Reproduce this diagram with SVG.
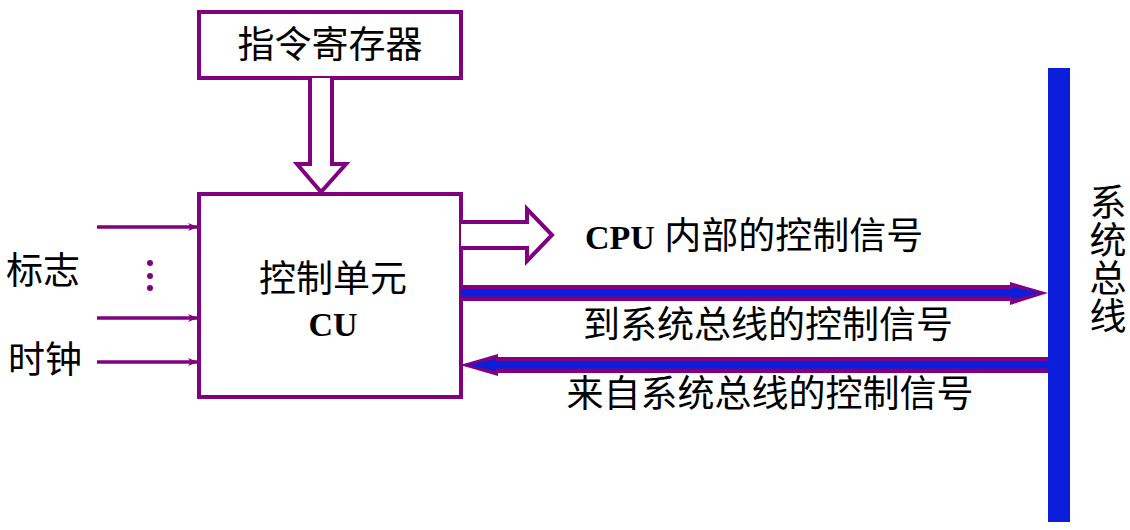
<svg xmlns="http://www.w3.org/2000/svg" width="1130" height="530" viewBox="0 0 1130 530">
<style>
.box{fill:#fff;stroke:#800080;stroke-width:4}
.t{font-family:"Liberation Serif","Noto Sans CJK SC",serif;font-size:37px;fill:#000}
.b{font-weight:bold;font-size:34px}
.ln{stroke:#800080;stroke-width:3.5;fill:none}
.hol{fill:#fff;stroke:#800080;stroke-width:4}
</style>
<defs><marker id="ah" markerWidth="10" markerHeight="10" refX="9" refY="5" orient="auto" markerUnits="userSpaceOnUse" viewBox="0 0 10 10"><path d="M0,1 L10,5 L0,9 L3,5 Z" fill="#800080"/></marker></defs>
<rect x="1048" y="68" width="22" height="454" fill="#0a1edc"/>
<g id="ir"><rect class="box" x="199" y="12" width="262" height="66"/><text class="t" x="330" y="58" text-anchor="middle">指令寄存器</text></g>
<g id="cu"><rect class="box" x="199" y="194" width="262" height="203"/><text class="t" x="333" y="292" text-anchor="middle">控制单元</text><text class="t b" x="333" y="336" text-anchor="middle">CU</text></g>
<g id="connectors">
<path class="hol" d="M310,78 V164 H297 L321,192 L346,164 H332 V78"/>
<path class="hol" d="M461,222 H527 V209 L552,235 L527,261 V248 H461"/>
<path d="M461,293 H1012 M1048,365 H496" stroke="#800080" stroke-width="16"/>
<path d="M1010,282 L1048,293 L1010,305 Z M498,354 L460,365 L498,376 Z" fill="#800080"/>
<path d="M461,293 H1015 M1048,365 H494" stroke="#0a1edc" stroke-width="7"/>
<path d="M1012,287 L1040,293 L1012,299 Z M496,359 L468,365 L496,371 Z" fill="#0a1edc"/>
<line class="ln" x1="97" y1="227" x2="197" y2="227" marker-end="url(#ah)"/>
<line class="ln" x1="97" y1="318" x2="197" y2="318" marker-end="url(#ah)"/>
<line class="ln" x1="97" y1="362" x2="197" y2="362" marker-end="url(#ah)"/>
<circle cx="150" cy="263" r="3" fill="#800080"/><circle cx="150" cy="276" r="3" fill="#800080"/><circle cx="150" cy="288" r="3" fill="#800080"/>
</g>
<text class="t" x="6" y="284">标志</text>
<text class="t" x="8" y="373">时钟</text>
<text class="t" x="585" y="249"><tspan class="b">CPU</tspan> 内部的控制信号</text>
<text class="t" x="768" y="338" text-anchor="middle">到系统总线的控制信号</text>
<text class="t" x="770" y="407" text-anchor="middle">来自系统总线的控制信号</text>
<text class="t" x="1108" y="216" text-anchor="middle">系</text>
<text class="t" x="1108" y="254" text-anchor="middle">统</text>
<text class="t" x="1108" y="292" text-anchor="middle">总</text>
<text class="t" x="1108" y="330" text-anchor="middle">线</text>
</svg>
